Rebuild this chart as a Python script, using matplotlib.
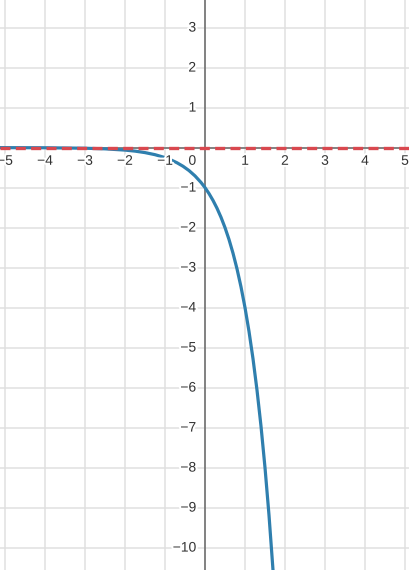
import matplotlib
matplotlib.use("Agg")
import matplotlib.pyplot as plt
import matplotlib.patheffects as pe

# Curve points
curve_x = [-5.2, -4.0, -3.0, -2.5, -2.0, -1.75, -1.5, -1.25, -1.0, -0.85, -0.7, -0.55, -0.4,
           -0.25, -0.1, 0.0, 0.1, 0.2, 0.3, 0.4, 0.5, 0.6, 0.7, 0.8, 0.9, 1.0, 1.1, 1.2,
           1.3, 1.4, 1.5, 1.6, 1.7, 1.75]
curve_y = [-0.0007, -0.0039, -0.0156, -0.031, -0.0625, -0.088, -0.125, -0.177, -0.25, -0.308,
           -0.379, -0.466, -0.574, -0.707, -0.871, -1.0, -1.149, -1.32, -1.516, -1.741,
           -2.0, -2.297, -2.639, -3.031, -3.482, -4.0, -4.595, -5.278, -6.063, -6.964,
           -8.0, -9.19, -10.56, -11.31]
asymptote_y = 0

x_ticks = [-5, -4, -3, -2, -1, 1, 2, 3, 4, 5]
y_ticks = [-10, -9, -8, -7, -6, -5, -4, -3, -2, -1, 1, 2, 3]

plt.rcParams['font.family'] = ['Liberation Sans', 'DejaVu Sans']

fig = plt.figure(figsize=(4.1, 5.7), dpi=100)
ax = fig.add_axes([0, 0, 1, 1])
ax.set_xlim(-5.125, 5.125)
ax.set_ylim(-10.56, 3.69)

for s in ax.spines.values():
    s.set_visible(False)
ax.set_xticks(range(-5, 6))
ax.set_yticks(range(-10, 4))
ax.tick_params(length=0, labelbottom=False, labelleft=False)
ax.grid(True, color='#e0e0e0', linewidth=1.1, zorder=0)
ax.set_axisbelow(True)

ax.axhline(0, color='#666666', linewidth=1.1, zorder=1)
ax.axvline(0, color='#666666', linewidth=1.1, zorder=1)

ax.plot(curve_x, curve_y, color='#2f7fae', linewidth=2.3, zorder=3,
        solid_capstyle='round', solid_joinstyle='round')
ax.axhline(asymptote_y, color='#d9484f', linewidth=2.4, linestyle=(0, (3.0, 1.6)), zorder=4)

halo = [pe.withStroke(linewidth=3, foreground='white')]
for v in x_ticks:
    lab = str(v).replace('-', '\u2212')
    ax.text(v, -0.33, lab, ha='center', va='center', fontsize=10, color='#333333',
            path_effects=halo, zorder=5)
for v in y_ticks:
    lab = str(v).replace('-', '\u2212')
    ax.text(-0.22, v, lab, ha='right', va='center', fontsize=10, color='#333333',
            path_effects=halo, zorder=5)
ax.text(-0.22, -0.33, '0', ha='right', va='center', fontsize=10, color='#333333',
        path_effects=halo, zorder=5)

fig.savefig('out.png', dpi=100)
